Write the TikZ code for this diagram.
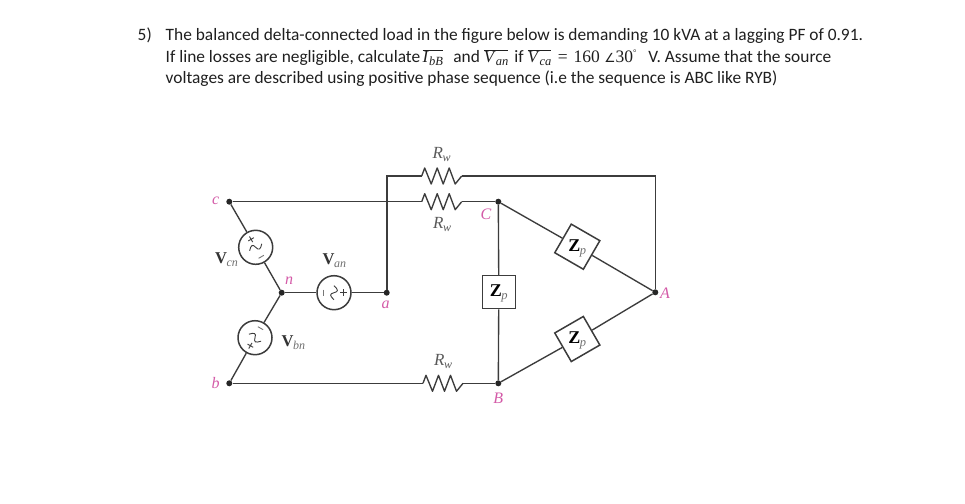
\documentclass[tikz,border=0pt]{standalone}
\usepackage{fontspec}
\setmainfont{Carlito}
\newfontfamily\lblfont{Liberation Serif}
\newfontfamily\symfont{DejaVu Sans}
\definecolor{ink}{HTML}{1F1F1F}
\definecolor{wire}{HTML}{3C3C3C}
\definecolor{pinklbl}{HTML}{D45BA8}
\definecolor{subgrey}{HTML}{707070}
\newcommand{\vlabel}[1]{{\lblfont\fontsize{16.5}{16}\selectfont\textbf{V}\kern-0.5pt\raisebox{-3pt}{\fontsize{12}{12}\selectfont\color{subgrey}\textit{#1}}}}
\newcommand{\rlabel}{{\lblfont\fontsize{17}{17}\selectfont\color{subgrey!80!black}\textit{R}\kern-0.5pt\raisebox{-3pt}{\fontsize{12}{12}\selectfont\textit{w}}}}
\newcommand{\zlabel}{{\lblfont\fontsize{18}{18}\selectfont\textbf{Z}\kern-0.5pt\raisebox{-3pt}{\fontsize{12.5}{12.5}\selectfont\color{subgrey}\textit{p}}}}
\newcommand{\mvar}[2]{$\overline{\hbox{\lblfont\fontsize{17}{17}\selectfont\textit{#1}\raisebox{-2.5pt}{\fontsize{12.5}{12.5}\selectfont\textit{#2}}}}$}
\tikzset{
  wireline/.style={draw=wire,line width=1.35pt},
  heavyline/.style={draw=wire,line width=1.6pt},
  dotnode/.style={circle,fill=black!85,inner sep=0pt,minimum size=6pt},
  srcnode/.style={circle,draw=wire,line width=1.5pt,fill=white,inner sep=0pt,minimum size=34pt},
  zbox/.style={rectangle,draw=wire,line width=1.5pt,fill=white,inner sep=0pt,minimum size=33pt},
  pinktext/.style={text=pinklbl,inner sep=0pt,font=\lblfont\itshape\fontsize{16}{16}\selectfont},
  plaintext/.style={inner sep=0pt,text=ink,anchor=base west,font=\fontsize{17.37}{20}\selectfont},
  lbl/.style={inner sep=0pt,anchor=base west,text=black!80},
  srcsym/.pic={
    \draw[wire,line width=0.9pt] (6,0) -- (12.5,0) (9.25,-3.25) -- (9.25,3.25);
    \draw[wire!70,line width=0.9pt] (-11,-3) -- (-11,3);
    \draw[wire,line width=0.9pt] (0,-7) .. controls (4.5,-3) and (4.5,-1) .. (0,0) .. controls (-4.5,1) and (-4.5,3) .. (0,7);
  }
}
\newcommand{\zigzag}[2]{(#1) -- ++(3,-8) -- ++(6.5,16) -- ++(6,-16) -- ++(6,16) -- ++(6,-16) -- ++(6,16) -- (#2)}
\begin{document}
\begin{tikzpicture}[x=1pt,y=-1pt]
\useasboundingbox (0,0) rectangle (965,503);
\fill[white] (0,0) rectangle (965,503);
% problem text
\node[plaintext] (num) at (137.5,41) {5)};
\node[plaintext] (lineone) at (165.5,41) {The balanced delta-connected load in the figure below is demanding 10 kVA at a lagging PF of 0.91.};
\node[plaintext] (linetwo) at (165.5,62.5) {If line losses are negligible, calculate\hspace{-1.5pt} \mvar{I}{bB}\hspace{6.5pt} and \mvar{V}{an}\hspace{2pt} if \mvar{V}{ca}\hspace{6.5pt}{\lblfont\fontsize{17.5}{20}\selectfont =\hspace{6pt}160\hspace{4.5pt}{\symfont\fontsize{12.5}{12.5}\selectfont ∠}30\raisebox{7pt}{\fontsize{8.5}{8.5}\selectfont °}}\hspace{8pt} V. Assume that the source};
\node[plaintext] (linethree) at (165.5,83.5) {voltages are described using positive phase sequence (i.e the sequence is ABC like RYB)};
% junctions
\node[dotnode] (c) at (229.3,201.7) {};
\node[dotnode] (b) at (229.3,383.3) {};
\node[dotnode] (n) at (281.7,292.7) {};
\node[dotnode] (a) at (386.7,292.7) {};
\node[dotnode] (C) at (498.3,201.7) {};
\node[dotnode] (B) at (498.3,383.3) {};
\node[dotnode] (A) at (655.3,292.3) {};
% sources
\node[srcnode] (scn) at (255.7,247.3) {};
\node[srcnode] (sbn) at (255,337.7) {};
\node[srcnode] (san) at (334,292.7) {};
\pic[rotate=120] at (scn) {srcsym};
\pic[rotate=240] at (sbn) {srcsym};
\pic at (san) {srcsym};
% loads
\node[zbox] (zc) at (498.8,292) {};
\node[zbox,rotate=-30] (zu) at (577.3,246.7) {};
\node[zbox,rotate=30] (zl) at (577.3,339) {};
\node[inner sep=0pt] (zct) at ([yshift=-1.5pt]zc) {\zlabel};
\node[inner sep=0pt] (zut) at ([yshift=-1.5pt]zu) {\zlabel};
\node[inner sep=0pt] (zlt) at ([yshift=-1.5pt]zl) {\zlabel};
% resistor ends
\coordinate (r1l) at (421.7,176);
\coordinate (r1r) at (461.7,176);
\coordinate (r2l) at (421.7,201.7);
\coordinate (r2r) at (461.7,201.7);
\coordinate (r3l) at (423,383.3);
\coordinate (r3r) at (463,383.3);
% connectors
\draw[wireline] (c) -- (scn);
\draw[wireline] (scn) -- (n);
\draw[wireline] (b) -- (sbn);
\draw[wireline] (sbn) -- (n);
\draw[wireline] (n) -- (san);
\draw[wireline] (san) -- (a);
\draw[heavyline] (a) |- (r1l);
\draw[heavyline] (r1r) -| (A);
\draw[wireline,line join=round] \zigzag{r1l}{r1r};
\draw[wireline] (c) -- (r2l);
\draw[wireline,line join=round] \zigzag{r2l}{r2r};
\draw[wireline] (r2r) -- (C);
\draw[wireline] (b) -- (r3l);
\draw[wireline,line join=round] \zigzag{r3l}{r3r};
\draw[wireline] (r3r) -- (B);
\draw[wireline] (C) -- (zc);
\draw[wireline] (zc) -- (B);
\draw[wireline] (C) -- (zu);
\draw[wireline] (zu) -- (A);
\draw[wireline] (B) -- (zl);
\draw[wireline] (zl) -- (A);
% labels
\node[pinktext] (lc) at (215.7,201) {c};
\node[pinktext] (lb) at (215.7,382.7) {b};
\node[pinktext] (ln) at (289,281) {n};
\node[pinktext] (la) at (385.7,305) {a};
\node[pinktext] (lC) at (486,214.3) {C};
\node[pinktext] (lA) at (665,293) {A};
\node[pinktext] (lB) at (498.3,398) {B};
\node[lbl] (vcn) at (215,263.3) {\vlabel{cn}};
\node[lbl] (van) at (322.5,264) {\vlabel{an}};
\node[lbl] (vbn) at (281.5,346.7) {\vlabel{bn}};
\node[lbl] (ru) at (432.5,158) {\rlabel};
\node[lbl] (rm) at (433,228) {\rlabel};
\node[lbl] (rb) at (434,365) {\rlabel};
\end{tikzpicture}
\end{document}
